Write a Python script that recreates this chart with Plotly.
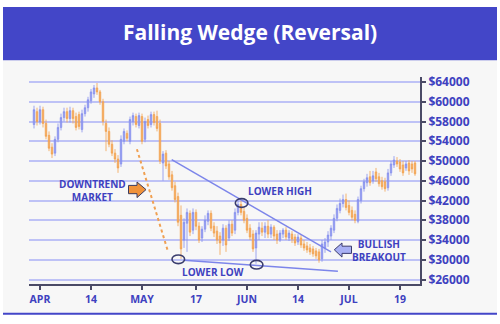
import numpy as np
import plotly.graph_objects as go

# ---- price axis: evenly spaced gridlines with these labels (thousands of $) ----
tick_prices = [26, 30, 34, 38, 42, 46, 50, 54, 58, 60, 64]
tick_labels = ["$26000", "$30000", "$34000", "$38000", "$42000", "$46000",
               "$50000", "$54000", "$58000", "$60000", "$64000"]
tick_slots = list(range(len(tick_prices)))

# ---- date axis: session index of each labelled date ----
date_sessions = [0, 17, 34, 52, 69, 86, 103, 120]
date_labels = ["APR", "14", "MAY", "17", "JUN", "14", "JUL", "19"]

# ---- daily candles (prices in thousands of $) ----
sessions = list(range(-2, 126))
opens = [57.4, 59.0, 58.0, 59.2, 57.6, 55.2, 52.8, 51.6, 54.4, 56.8,
         58.4, 59.0, 58.3, 59.1, 58.5, 58.7, 56.4, 58.8, 59.4, 60.2,
         61.6, 62.8, 62.0, 60.0, 57.6, 56.0, 53.4, 51.6, 50.4, 49.4,
         54.0, 55.6, 54.0, 58.0, 58.5, 57.2, 58.5, 54.4, 58.2, 57.4,
         58.7, 58.5, 57.6, 49.6, 51.6, 49.4, 47.2, 45.0, 42.8, 39.0,
         34.0, 37.4, 39.4, 36.0, 39.6, 36.8, 34.4, 36.2, 37.8, 39.4,
         36.8, 35.8, 34.8, 34.0, 36.4, 34.4, 37.2, 36.0, 39.6, 41.2,
         39.8, 38.4, 36.4, 35.2, 32.4, 35.2, 36.4, 35.6, 36.8, 35.2,
         36.6, 35.2, 34.0, 35.2, 36.0, 34.4, 35.2, 34.6, 33.6, 34.4,
         33.2, 32.8, 32.4, 32.2, 31.8, 31.6, 30.2, 32.4, 33.6, 34.8,
         36.0, 38.4, 40.0, 41.4, 42.2, 41.0, 40.0, 39.2, 37.8, 42.0,
         44.4, 45.6, 46.8, 46.0, 47.8, 46.8, 46.0, 45.8, 44.6, 47.6,
         49.2, 50.0, 49.8, 49.2, 48.6, 49.6, 49.4, 49.6]
highs = [59.6, 59.4, 59.6, 59.5, 58.2, 56.0, 53.6, 55.0, 57.6, 58.8,
         59.4, 59.4, 59.5, 59.4, 58.9, 59.0, 59.2, 59.7, 61.0, 62.6,
         63.4, 63.8, 62.4, 60.6, 58.2, 56.8, 54.2, 52.4, 51.2, 55.2,
         56.6, 56.2, 58.5, 58.9, 58.8, 58.9, 58.8, 58.4, 58.6, 59.0,
         59.0, 59.1, 58.2, 52.0, 52.2, 50.0, 48.0, 45.8, 43.6, 41.0,
         38.4, 40.4, 40.0, 40.4, 40.2, 37.6, 36.8, 39.0, 40.0, 40.0,
         37.6, 36.8, 35.6, 37.2, 37.0, 38.0, 38.0, 40.4, 42.0, 42.0,
         40.6, 39.2, 37.2, 36.0, 36.0, 37.6, 37.6, 37.6, 38.0, 37.2,
         37.0, 36.0, 36.0, 36.4, 36.6, 36.0, 35.8, 35.2, 35.2, 35.0,
         34.0, 33.6, 33.2, 32.8, 32.4, 32.2, 34.0, 34.4, 35.8, 37.0,
         39.2, 41.2, 42.4, 43.2, 43.4, 42.0, 40.8, 40.0, 42.8, 45.0,
         46.4, 47.4, 48.0, 48.0, 48.6, 47.6, 46.8, 46.6, 48.4, 50.0,
         51.0, 50.8, 50.4, 50.0, 50.0, 50.2, 50.0, 50.0]
lows = [56.6, 57.2, 57.4, 56.8, 54.4, 52.0, 50.6, 51.0, 53.8, 56.2,
        58.0, 57.8, 57.8, 57.6, 56.2, 56.4, 55.8, 58.5, 59.0, 59.8,
        60.8, 61.4, 59.7, 57.2, 52.0, 52.8, 51.0, 49.6, 47.6, 48.8,
        53.4, 54.0, 53.4, 57.2, 56.8, 56.6, 53.4, 53.8, 56.6, 56.8,
        57.2, 56.0, 49.4, 46.0, 48.4, 46.2, 44.0, 41.6, 36.8, 30.2,
        32.4, 31.6, 34.8, 35.2, 36.0, 33.4, 33.6, 35.6, 37.0, 35.8,
        34.6, 33.2, 31.0, 32.8, 31.6, 33.8, 34.8, 35.2, 39.0, 39.0,
        37.4, 35.4, 34.0, 31.6, 29.2, 34.0, 34.8, 34.4, 34.4, 34.4,
        34.0, 33.2, 33.6, 34.4, 34.0, 33.8, 33.4, 32.8, 33.0, 32.4,
        31.8, 31.4, 31.0, 30.6, 30.2, 29.4, 29.6, 31.4, 32.6, 34.0,
        35.4, 37.8, 39.4, 40.6, 40.0, 39.0, 38.0, 37.4, 37.4, 41.4,
        43.8, 44.8, 45.0, 45.4, 45.8, 44.8, 44.2, 43.8, 44.0, 47.0,
        48.6, 48.8, 47.8, 47.0, 48.0, 47.2, 47.6, 47.0]
closes = [59.2, 58.0, 59.2, 57.6, 55.0, 52.6, 51.4, 54.4, 56.8, 58.4,
          59.0, 58.3, 59.1, 58.3, 56.8, 57.0, 58.8, 59.4, 60.4, 62.0,
          62.8, 62.0, 60.0, 58.0, 56.0, 53.4, 51.6, 50.4, 48.6, 54.4,
          56.0, 54.6, 58.2, 58.6, 57.4, 58.6, 54.0, 58.0, 57.2, 58.7,
          57.8, 56.6, 50.0, 51.4, 49.0, 46.8, 44.6, 42.2, 37.6, 32.2,
          37.6, 39.6, 35.6, 39.6, 36.8, 34.0, 36.2, 38.0, 39.4, 36.4,
          35.4, 34.0, 33.4, 36.4, 33.0, 37.2, 35.4, 39.6, 41.2, 39.6,
          38.0, 36.0, 34.6, 32.2, 35.4, 36.6, 35.6, 36.8, 35.2, 36.6,
          34.8, 34.0, 35.4, 36.0, 34.6, 35.4, 34.2, 33.4, 34.6, 33.0,
          32.4, 32.0, 31.6, 31.2, 30.8, 30.0, 33.2, 33.6, 35.0, 36.4,
          38.4, 40.4, 41.4, 42.2, 40.6, 39.6, 38.6, 38.0, 42.2, 44.4,
          45.8, 46.6, 45.6, 47.0, 46.4, 45.4, 44.8, 44.4, 47.6, 49.4,
          50.2, 49.4, 48.4, 47.6, 49.4, 48.0, 48.4, 47.4]

# ---- pattern annotations (session, price) ----
upper_trend = [(43.9, 50.3), (97.0, 31.6)]
lower_trend = [(48.0, 29.9), (99.3, 27.7)]
downtrend_path = [(32.3, 52.4), (42.7, 31.6)]
pivot_marks = [(46.1, 30.1), (67.2, 41.5), (72.2, 29.0)]

BLUE = "#4346C8"
TEXT = "#3E41C0"
AXIS = "#4A4A66"
GRID = "#BEC2F6"
W, H = 500, 324


def slot(price):
    """Map a price onto the evenly spaced gridline slots."""
    return np.interp(price, tick_prices, tick_slots)


def pxx(x):
    return x / W


def pxy(y):
    return 1 - y / H


fig = go.Figure()
fig.add_trace(go.Candlestick(
    x=sessions,
    open=slot(opens), high=slot(highs), low=slot(lows), close=slot(closes),
    increasing=dict(line=dict(color="#8790EE", width=0.8), fillcolor="#939BF2"),
    decreasing=dict(line=dict(color="#F3A24F", width=0.8), fillcolor="#F6AA5C"),
    whiskerwidth=0, showlegend=False, hoverinfo="skip",
))

shapes = []
# header bar, chart panel and its bottom rule
shapes.append(dict(type="rect", xref="paper", yref="paper", layer="below",
                   x0=pxx(3), x1=pxx(497), y0=pxy(58), y1=pxy(3),
                   fillcolor=BLUE, line=dict(width=0)))
shapes.append(dict(type="rect", xref="paper", yref="paper", layer="below",
                   x0=pxx(3), x1=pxx(497), y0=pxy(317), y1=pxy(58),
                   fillcolor="#F7F7F7", line=dict(width=0)))
shapes.append(dict(type="line", xref="paper", yref="paper",
                   x0=pxx(3), x1=pxx(497), y0=pxy(317.5), y1=pxy(317.5),
                   line=dict(color=BLUE, width=2)))

# wedge trendlines
for (s0, p0), (s1, p1) in [upper_trend, lower_trend]:
    shapes.append(dict(type="line", xref="x", yref="y",
                       x0=s0, y0=float(slot(p0)), x1=s1, y1=float(slot(p1)),
                       line=dict(color="#7C85EA", width=1.5)))
# dotted downtrend guide
(s0, p0), (s1, p1) = downtrend_path
shapes.append(dict(type="line", xref="x", yref="y",
                   x0=s0, y0=float(slot(p0)), x1=s1, y1=float(slot(p1)),
                   line=dict(color="#F0A052", width=2, dash="dot")))
# pivot circles
for s, p in pivot_marks:
    c = float(slot(p))
    shapes.append(dict(type="circle", xref="x", yref="y",
                       x0=s - 2.1, x1=s + 2.1, y0=c - 0.22, y1=c + 0.22,
                       line=dict(color="#3A3D6E", width=1.6)))


def poly(points):
    return "M " + " L ".join(f"{pxx(x):.5f},{pxy(y):.5f}" for x, y in points) + " Z"


# orange arrow pointing at the downtrend
shapes.append(dict(type="path", xref="paper", yref="paper",
                   path=poly([(128.5, 186), (137, 186), (137, 182.5), (146, 190.3),
                              (137, 198.5), (137, 194.5), (128.5, 194.5)]),
                   fillcolor="#F0923A", line=dict(color="#3B3B5E", width=1)))
# blue arrow pointing at the breakout
shapes.append(dict(type="path", xref="paper", yref="paper",
                   path=poly([(351.5, 248.3), (342, 248.3), (342, 245), (334.3, 252),
                              (342, 259.5), (342, 255.7), (351.5, 255.7)]),
                   fillcolor="#A8B0F4", line=dict(color="#3B3B6E", width=1)))

label_font = dict(family="Open Sans", size=10, color=TEXT, weight="bold")
callouts = [
    ("DOWNTREND<br>MARKET", 92.5, 191.5),
    ("LOWER HIGH", 280, 192),
    ("LOWER LOW", 213, 275),
    ("BULLISH<br>BREAKOUT", 379, 252.5),
]
annotations = [
    dict(text="Falling Wedge (Reversal)", x=0.5, y=pxy(29), xref="paper", yref="paper",
         xanchor="center", yanchor="middle", showarrow=False,
         font=dict(family="Open Sans", size=21, color="white", weight="bold")),
]
for text, x, y in callouts:
    annotations.append(dict(text=text, x=pxx(x), y=pxy(y), xref="paper", yref="paper",
                            xanchor="center", yanchor="middle", align="center",
                            showarrow=False, font=label_font))

fig.update_layout(
    width=W, height=H, margin=dict(l=0, r=0, t=0, b=0),
    paper_bgcolor="white", plot_bgcolor="rgba(0,0,0,0)",
    shapes=shapes, annotations=annotations, showlegend=False,
    xaxis=dict(domain=[pxx(29), pxx(420)], range=[-11 / 3, 380 / 3],
               rangeslider=dict(visible=False), showgrid=False, zeroline=False,
               showline=True, linecolor=AXIS, linewidth=2,
               ticks="outside", ticklen=4, tickwidth=2, tickcolor=AXIS,
               tickvals=date_sessions, ticktext=date_labels,
               tickfont=dict(family="Open Sans", size=10.5, color=TEXT, weight="bold")),
    yaxis=dict(domain=[pxy(287), pxy(75)], range=[(282.5 - 287) / 20.25, (282.5 - 75) / 20.25],
               side="right", showgrid=True, gridcolor=GRID, gridwidth=1.6, zeroline=False,
               showline=True, linecolor=AXIS, linewidth=2,
               ticks="outside", ticklen=4, tickwidth=2, tickcolor=AXIS,
               tickvals=tick_slots, ticktext=tick_labels,
               tickfont=dict(family="Open Sans", size=12, color=TEXT, weight="bold")),
)

fig.write_html("out.html")
